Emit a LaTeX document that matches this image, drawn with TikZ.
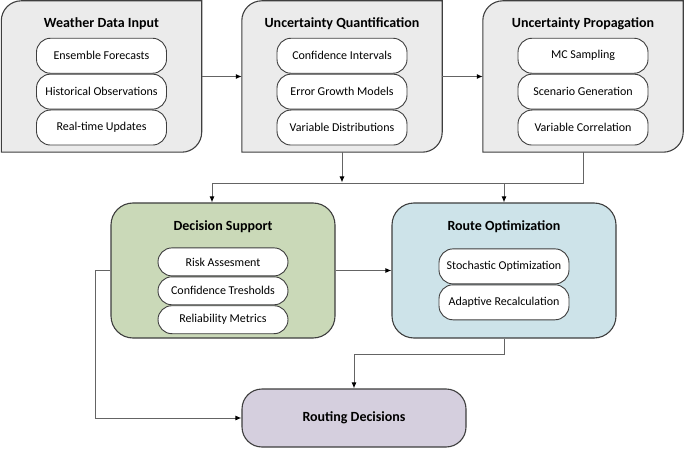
\documentclass[tikz,border=0pt]{standalone}
\usepackage{fontspec}
\setmainfont{Carlito}
\usetikzlibrary{arrows.meta, positioning}
\definecolor{panelGray}{RGB}{235,235,235}
\definecolor{panelGreen}{RGB}{202,217,184}
\definecolor{panelBlue}{RGB}{205,227,233}
\definecolor{panelPurple}{RGB}{213,207,222}
\definecolor{edgeDark}{RGB}{62,62,62}
\definecolor{flowGray}{RGB}{100,100,100}

\begin{document}
\begin{tikzpicture}[x=1pt, y=-1pt,
    panel/.style={minimum width=200pt, minimum height=151pt, inner sep=0pt},
    panelshape/.style={draw=edgeDark, fill=panelGray, line width=1.1pt},
    box/.style={draw=edgeDark, line width=1.1pt, rounded corners=22pt, minimum width=224pt, minimum height=135pt, inner sep=0pt},
    title/.style={font=\fontsize{14}{16}\selectfont\bfseries, inner sep=0pt},
    pill/.style={draw=edgeDark, fill=white, line width=0.9pt, rounded corners=14pt, minimum width=130pt, minimum height=35pt, inner sep=0pt, font=\fontsize{12}{14}\selectfont},
    arrow/.style={-{Latex[length=6pt,width=5pt,color=black]}, draw=flowGray, line width=1pt},
    flow/.style={draw=flowGray, line width=1pt}
]
    \useasboundingbox (0,0) rectangle (685,449);

    % top row
    \node[panel] (weather) at (101.5,76.5) {};
    \node[panel] (quant) at (342,76.5) {};
    \node[panel] (prop) at (583,76.5) {};
    \foreach \p in {weather,quant,prop}
        \draw[panelshape] (\p.south west) -- ([yshift=-20pt]\p.north west)
            arc[start angle=180, end angle=90, radius=20pt] -- (\p.north east)
            -- ([yshift=20pt]\p.south east) arc[start angle=0, end angle=-90, radius=20pt] -- cycle;

    \node[title] (weatherT) at ([yshift=-23pt]weather.north) {Weather Data Input};
    \node[pill, below=37pt of weather.north] (ensemble) {Ensemble Forecasts};
    \node[pill, below=0pt of ensemble] (historic) {Historical Observations};
    \node[pill, below=0pt of historic] (realtime) {Real-time Updates};

    \node[title] (quantT) at ([yshift=-23pt]quant.north) {Uncertainty Quantification};
    \node[pill, below=37pt of quant.north] (confint) {Confidence Intervals};
    \node[pill, below=0pt of confint] (errgrowth) {Error Growth Models};
    \node[pill, below=0pt of errgrowth] (vardist) {Variable Distributions};

    \node[title] (propT) at ([yshift=-23pt]prop.north) {Uncertainty Propagation};
    \node[pill, below=37pt of prop.north] (mcsamp) {MC Sampling};
    \node[pill, below=0pt of mcsamp] (scengen) {Scenario Generation};
    \node[pill, below=0pt of scengen] (varcorr) {Variable Correlation};

    % middle row
    \node[box, fill=panelGreen] (support) at (223,270.5) {};
    \node[title] (supportT) at ([yshift=-24pt]support.north) {Decision Support};
    \node[pill, minimum height=28pt, below=45pt of support.north] (risk) {Risk Assesment};
    \node[pill, minimum height=28pt, below=0pt of risk] (thresh) {Confidence Tresholds};
    \node[pill, minimum height=28pt, below=0pt of thresh] (reliab) {Reliability Metrics};

    \node[box, fill=panelBlue] (route) at (504,270.5) {};
    \node[title] (routeT) at ([yshift=-24pt]route.north) {Route Optimization};
    \node[pill, below=46pt of route.north] (stochopt) {Stochastic Optimization};
    \node[pill, below=0pt of stochopt] (adaptive) {Adaptive Recalculation};

    % bottom
    \node[box, fill=panelPurple, minimum height=58pt, rounded corners=20pt, title] (decide) at (354,418) {Routing Decisions};

    % connectors
    \coordinate (busL) at (212,184);
    \coordinate (loopL) at (95,418);
    \coordinate (joinR) at (354,354);

    \draw[arrow] (weather.east) -- (quant.west);
    \draw[arrow] (quant.east) -- (prop.west);
    \draw[arrow] (quant.south) -- ([yshift=1.5pt]quant.south |- busL);
    \draw[flow] (prop.south) |- (busL);
    \draw[arrow] (busL) -- (busL |- support.north);
    \draw[arrow] (route.north |- busL) -- (route.north);
    \draw[arrow] (support.east) -- (route.west);
    \draw[arrow] (support.west) -| (loopL) -- (decide.west);
    \draw[arrow] (route.south) |- (joinR) -- (decide.north);
\end{tikzpicture}
\end{document}
